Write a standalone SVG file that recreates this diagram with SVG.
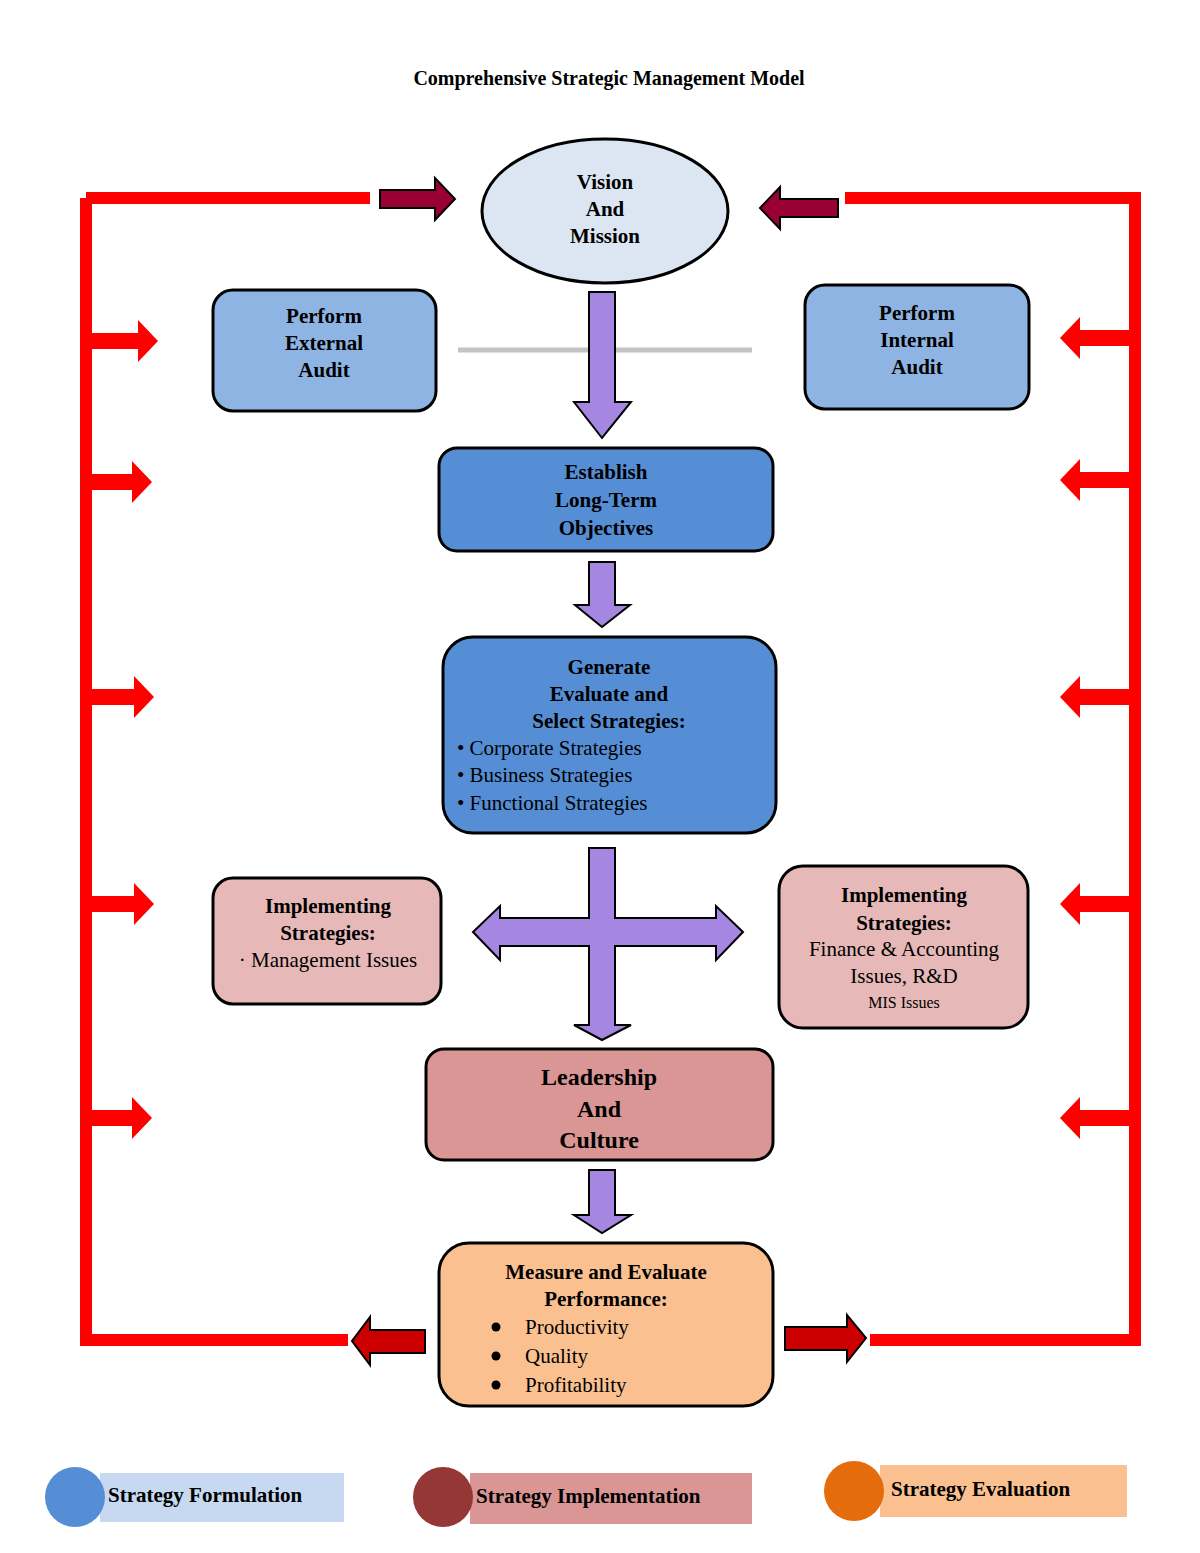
<svg xmlns="http://www.w3.org/2000/svg" width="1200" height="1553" viewBox="0 0 1200 1553">
<style>
text{font-family:"Liberation Serif","Times New Roman",serif;fill:#000;text-anchor:middle}
.b{font-weight:bold;font-size:21px}
.n{font-size:21px}
.box{stroke:#000;stroke-width:3}
.pur{fill:#a587e2;stroke:#000;stroke-width:2}
.red{fill:#ff0000}
</style>
<rect width="1200" height="1553" fill="#fff"/>
<text class="b" x="609" y="85" style="font-size:20px">Comprehensive Strategic Management Model</text>
<g id="connectors">
<!-- red feedback frame -->
<path d="M86 198H370M86 198V1340H348M845 198H1135V1340H870" fill="none" stroke="#ff0000" stroke-width="12"/>
<g class="red">
<path d="M92 333H138V320L158 341L138 362V349H92Z"/>
<path d="M92 474H132V461L152 482L132 503V490H92Z"/>
<path d="M92 689H134V676L154 697L134 718V705H92Z"/>
<path d="M92 896H134V883L154 904L134 925V912H92Z"/>
<path d="M92 1110H132V1097L152 1118L132 1139V1126H92Z"/>
<path d="M1129 330H1080V317L1060 338L1080 359V346H1129Z"/>
<path d="M1129 472H1080V459L1060 480L1080 501V488H1129Z"/>
<path d="M1129 689H1080V676L1060 697L1080 718V705H1129Z"/>
<path d="M1129 896H1080V883L1060 904L1080 925V912H1129Z"/>
<path d="M1129 1110H1080V1097L1060 1118L1080 1139V1126H1129Z"/>
</g>
<path d="M380 190H435V178L455 199L435 220V208H380Z" fill="#990033" stroke="#000" stroke-width="2"/>
<path d="M838 199H780V187L760 208L780 229V217H838Z" fill="#990033" stroke="#000" stroke-width="2"/>
<path d="M425 1330H370V1317L352 1341L370 1365V1353H425Z" fill="#cc0000" stroke="#000" stroke-width="2"/>
<path d="M785 1327H847V1315L866 1338L847 1362V1350H785Z" fill="#cc0000" stroke="#000" stroke-width="2"/>
<line x1="458" y1="350" x2="752" y2="350" stroke="#c3c3c3" stroke-width="5"/>
<path class="pur" d="M589 292H615V402H631L602 438L574 402H589Z"/>
<path class="pur" d="M589 562H615V605H630L602 627L575 605H589Z"/>
<path class="pur" d="M589 848H615V918H716V906L743 932L716 960V946H615V1025H631L602 1040L574 1025H589V946H500V960L473 932L500 906V918H589Z"/>
<path class="pur" d="M589 1170H615V1215H631L602 1233L574 1215H589Z"/>
</g>
<g id="vision"><ellipse class="box" cx="605" cy="211" rx="123" ry="72" fill="#dce6f2"/>
<text class="b" x="605" y="189">Vision</text><text class="b" x="605" y="216">And</text><text class="b" x="605" y="243">Mission</text></g>
<g id="external"><rect class="box" x="213" y="290" width="223" height="121" rx="20" fill="#8eb4e3"/>
<text class="b" x="324" y="323">Perform</text><text class="b" x="324" y="350">External</text><text class="b" x="324" y="377">Audit</text></g>
<g id="internal"><rect class="box" x="805" y="285" width="224" height="124" rx="20" fill="#8eb4e3"/>
<text class="b" x="917" y="320">Perform</text><text class="b" x="917" y="347">Internal</text><text class="b" x="917" y="374">Audit</text></g>
<g id="objectives"><rect class="box" x="439" y="448" width="334" height="103" rx="18" fill="#558ed5"/>
<text class="b" x="606" y="479">Establish</text><text class="b" x="606" y="507">Long-Term</text><text class="b" x="606" y="535">Objectives</text></g>
<g id="generate"><rect class="box" x="443" y="637" width="333" height="196" rx="30" fill="#558ed5"/>
<text class="b" x="609" y="674">Generate</text><text class="b" x="609" y="701">Evaluate and</text><text class="b" x="609" y="728">Select Strategies:</text>
<text class="n" x="457" y="755" style="text-anchor:start">• Corporate Strategies</text>
<text class="n" x="457" y="782" style="text-anchor:start">• Business Strategies</text>
<text class="n" x="457" y="810" style="text-anchor:start">• Functional Strategies</text></g>
<g id="implLeft"><rect class="box" x="213" y="878" width="228" height="126" rx="20" fill="#e6b9b8"/>
<text class="b" x="328" y="913">Implementing</text><text class="b" x="328" y="940">Strategies:</text>
<text class="n" x="328" y="967">· Management Issues</text></g>
<g id="implRight"><rect class="box" x="779" y="866" width="249" height="162" rx="24" fill="#e6b9b8"/>
<text class="b" x="904" y="902">Implementing</text><text class="b" x="904" y="930">Strategies:</text>
<text class="n" x="904" y="956">Finance &amp; Accounting</text><text class="n" x="904" y="983">Issues, R&amp;D</text>
<text x="904" y="1008" style="font-size:16px">MIS Issues</text></g>
<g id="leadership"><rect class="box" x="426" y="1049" width="347" height="111" rx="18" fill="#d99694"/>
<text class="b" x="599" y="1085" style="font-size:24px">Leadership</text><text class="b" x="599" y="1117" style="font-size:24px">And</text><text class="b" x="599" y="1148" style="font-size:24px">Culture</text></g>
<g id="measure"><rect class="box" x="439" y="1243" width="334" height="163" rx="30" fill="#fac090"/>
<text class="b" x="606" y="1279">Measure and Evaluate</text><text class="b" x="606" y="1306">Performance:</text>
<circle cx="496" cy="1327" r="4.5"/><circle cx="496" cy="1356" r="4.5"/><circle cx="496" cy="1385" r="4.5"/>
<text class="n" x="525" y="1334" style="text-anchor:start">Productivity</text>
<text class="n" x="525" y="1363" style="text-anchor:start">Quality</text>
<text class="n" x="525" y="1392" style="text-anchor:start">Profitability</text></g>
<g id="legend">
<rect x="100" y="1473" width="244" height="49" fill="#c6d9f1"/><circle cx="75" cy="1497" r="30" fill="#558ed5"/>
<text class="b" x="108" y="1502" style="text-anchor:start">Strategy Formulation</text>
<rect x="470" y="1473" width="282" height="51" fill="#d99694"/><circle cx="443" cy="1497" r="30" fill="#953735"/>
<text class="b" x="476" y="1503" style="text-anchor:start">Strategy Implementation</text>
<rect x="880" y="1465" width="247" height="52" fill="#fac090"/><circle cx="854" cy="1491" r="30" fill="#e46c0a"/>
<text class="b" x="891" y="1496" style="text-anchor:start">Strategy Evaluation</text>
</g>
</svg>
